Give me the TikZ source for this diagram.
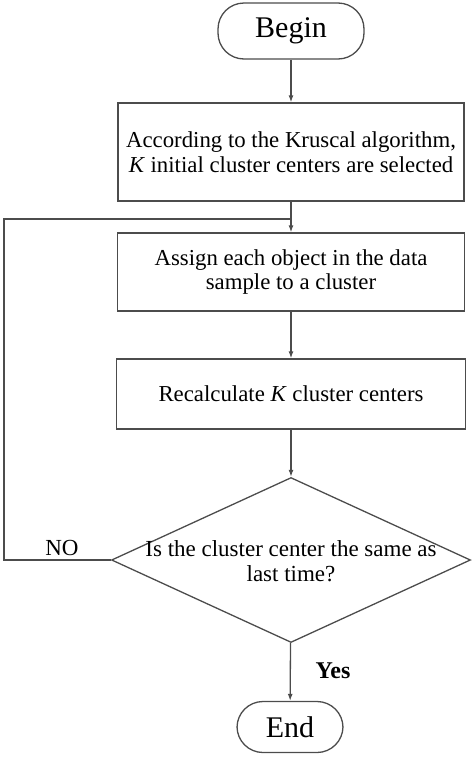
\documentclass[tikz,border=0pt]{standalone}
\usepackage{fontspec}
\setmainfont{Liberation Serif}
\usetikzlibrary{shapes.geometric,arrows.meta}
\tikzset{
  line/.style={draw=black!70, line width=1.3pt},
  arr/.style={line, -{Latex[length=7pt,width=5pt]}},
  procbox/.style={line, rectangle, align=center, font=\fontsize{22.8}{24.5}\selectfont, inner sep=0pt},
  term/.style={line, rectangle, rounded corners=26pt, font=\fontsize{30}{32}\selectfont, inner sep=0pt},
  decision/.style={line, diamond, inner sep=0pt, minimum width=359pt, minimum height=165pt},
  lbl/.style={font=\fontsize{23}{24.5}\selectfont, inner sep=0pt},
}
\begin{document}
\begin{tikzpicture}[x=1pt,y=-1pt]
\useasboundingbox (0,0) rectangle (474,758);
\node[term, minimum width=146pt, minimum height=56pt] (begin) at (291,31) {Begin};
\node[procbox, minimum width=346pt, minimum height=98pt] (init) at (291,152)
  {According to the Kruscal algorithm,\\\textit{K} initial cluster centers are selected};
\node[procbox, minimum width=347pt, minimum height=78pt] (assign) at (291,272)
  {Assign each object in the data\\sample to a cluster};
\node[procbox, minimum width=349pt, minimum height=70pt] (recalc) at (291,394)
  {Recalculate \textit{K} cluster centers};
\node[decision] (dec) at (291,560) {};
\node[lbl, align=center] (dectext) at (291,561) {Is the cluster center the same as\\last time?};
\node[term, minimum width=106pt, minimum height=51pt] (end) at (290,727) {End};
\node[lbl] (no) at (62,548) {NO};
\node[lbl, font=\fontsize{24}{26}\selectfont\bfseries] (yes) at (333,671) {Yes};
\coordinate (corner) at (4,560);
\coordinate (merge) at (291,219);
\draw[arr] (begin) -- (init);
\draw[arr] (init) -- (assign);
\draw[arr] (assign) -- (recalc);
\draw[arr] (recalc) -- (dec);
\draw[arr] (dec) -- (end);
\draw[line] (dec.west) -- (corner) |- (merge);
\end{tikzpicture}
\end{document}
